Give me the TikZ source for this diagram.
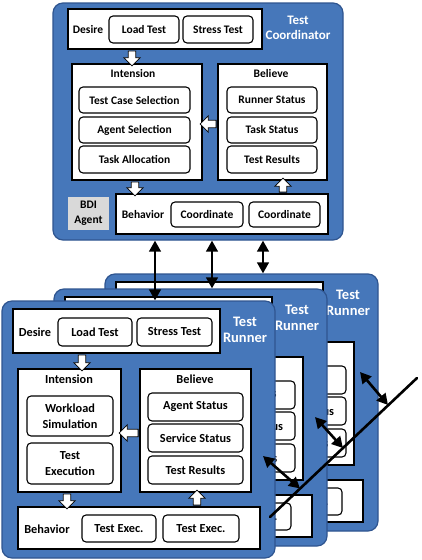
\documentclass[tikz,border=0pt]{standalone}
\usepackage{fontspec}
\setmainfont{Carlito}
\usetikzlibrary{arrows.meta,shapes.arrows,calc}

\definecolor{agblue}{HTML}{4677BA}
\definecolor{agedge}{HTML}{2F5590}
\definecolor{bdigray}{HTML}{D9D9D9}

\tikzset{
  itemfont/.style={font=\bfseries\fontsize{11.5}{15}\selectfont},
  agent/.style={draw=agedge, line width=1.2pt, fill=agblue, rounded corners=10pt},
  part/.style={draw=black, line width=1.1pt, fill=white},
  item/.style={draw=black, line width=1.1pt, fill=white, rounded corners=4pt, align=center, itemfont},
  graybox/.style={fill=bdigray, align=center, font=\bfseries\fontsize{11.5}{15}\selectfont},
  lbl/.style={itemfont, inner sep=0pt},
  agname/.style={text=white, font=\bfseries\fontsize{13}{15}\selectfont, align=center, inner sep=0pt},
  barrow/.style={single arrow, draw=black, line width=0.8pt, fill=white, inner sep=3.4pt,
    single arrow head extend=4.4pt, minimum height=#1},
  link/.style={line width=2.6pt, {Triangle[length=11pt,width=11.5pt]}-{Triangle[length=11pt,width=11.5pt]}},
  wire/.style={line width=2.6pt, line cap=round},
}

% style, name, x1, y1, x2, y2, text
\newcommand\bx[7]{%
  \node[#1, minimum width={#5-#3}, minimum height={#6-#4}, inner sep=0pt]
    (#2) at ({(#3+#5)/2},{(#4+#6)/2}) {#7};}

% full text for the front runner, visible fragments for the runners behind it
\def\rfull{1}
\newcommand\rt[2]{\ifnum\rfull=1 #1\else #2\fi}

% x shift, y shift, prefix
\newcommand\runner[3]{%
\begin{scope}[shift={(#1,#2)}, itemfont/.style={font=\bfseries\fontsize{12.3}{15.5}\selectfont},
  agname/.append style={font=\bfseries\fontsize{14.5}{16}\selectfont}]
  \bx{agent}{#3}{0}{0}{273}{257}{}
  \bx{part}{#3des}{11}{8}{218}{52}{}
  \node[lbl] (#3desl) at (33,31) {\rt{Desire}{}};
  \bx{item}{#3lt}{56}{17}{130}{45}{\rt{Load Test}{}}
  \bx{item}{#3st}{135}{17}{210}{45}{\rt{Stress Test}{}}
  \node[agname] (#3name) at (243,29) {Test\\Runner};
  \bx{part}{#3int}{16}{68}{119}{191}{}
  \node[lbl] (#3intl) at (67,78) {\rt{Intension}{}};
  \bx{item}{#3ws}{25}{95}{111}{135}{\rt{Workload\\Simulation}{}}
  \bx{item}{#3te}{25}{142}{111}{183}{\rt{Test\\Execution}{}}
  \bx{part}{#3bel}{138}{68}{249}{191}{}
  \node[lbl] (#3bell) at (193,78) {\rt{Believe}{}};
  \bx{item}{#3as}{146}{92}{241}{120}{\rt{Agent Status}{\phantom{Agent Stat}s}}
  \bx{item}{#3ss}{146}{123}{241}{151}{\rt{Service Status}{\phantom{Service Stat}us}}
  \bx{item}{#3tr}{146}{155}{241}{183}{\rt{Test Results}{\phantom{Test Result}s}}
  \bx{part}{#3beh}{16}{206}{258}{248}{}
  \node[lbl] (#3behl) at (45,228) {\rt{Behavior}{}};
  \bx{item}{#3x1}{80}{214}{154}{241}{\rt{Test Exec.}{}}
  \bx{item}{#3x2}{161}{214}{237}{241}{\rt{Test Exec.}{\phantom{Test Exec}.}}
  \node[barrow=16, rotate=-90] (#3a1) at (80,60) {};
  \node[barrow=15, rotate=-90] (#3a2) at (65,198.5) {};
  \node[barrow=15, rotate=90] (#3a3) at (195,198.5) {};
  \node[barrow=19, rotate=180] (#3a4) at (128.5,132) {};
\end{scope}}

\begin{document}
\begin{tikzpicture}[x=1pt, y=-1pt]
  \useasboundingbox (0,0) rectangle (422,560);
  \fill[white] (0,0) rectangle (422,560);

  % Test Coordinator
  \bx{agent}{tc}{53}{3}{343}{240}{}
  \bx{part}{cdes}{68}{9}{262}{49}{}
  \node[lbl] (cdesl) at (88,30) {Desire};
  \bx{item}{clt}{109}{16}{179}{43}{Load Test}
  \bx{item}{cst}{183}{16}{253}{43}{Stress Test}
  \node[agname] (tcname) at (298,27.5) {Test\\Coordinator};
  \bx{part}{cint}{72}{64}{202}{180}{}
  \node[lbl] (cintl) at (133,74) {Intension};
  \bx{item}{ctcs}{79}{87}{190}{113}{Test Case Selection}
  \bx{item}{cas}{79}{117}{190}{143}{Agent Selection}
  \bx{item}{cta}{79}{146}{190}{173}{Task Allocation}
  \bx{part}{cbel}{218}{64}{327}{180}{}
  \node[lbl] (cbell) at (271,74) {Believe};
  \bx{item}{crs}{227}{87}{317}{113}{Runner Status}
  \bx{item}{cts}{227}{117}{317}{143}{Task Status}
  \bx{item}{ctr}{227}{146}{317}{173}{Test Results}
  \bx{graybox}{bdi}{68}{197}{109}{230}{BDI\\Agent}
  \bx{part}{cbeh}{116}{194}{328}{234}{}
  \node[lbl] (cbehl) at (143,215) {Behavior};
  \bx{item}{cc1}{171}{202}{243}{227}{Coordinate}
  \bx{item}{cc2}{249}{202}{320}{227}{Coordinate}
  \node[barrow=15, rotate=-90] (ca1) at (132,56.5) {};
  \node[barrow=14, rotate=-90] (ca2) at (135,187) {};
  \node[barrow=14, rotate=90] (ca3) at (283,187) {};
  \node[barrow=16, rotate=180] (ca4) at (210,124) {};

  % Test Runners (back to front)
  \def\rfull{0}
  \runner{105}{274}{rc}
  \runner{54}{289}{rb}
  \def\rfull{1}
  \runner{2}{301}{ra}

  % links coordinator - runners
  \coordinate (k1) at (155,0);
  \coordinate (k2) at (212,0);
  \coordinate (k3) at (263,0);
  \draw[link] (tc.south -| k1) -- (ra.north -| k1);
  \draw[link] (tc.south -| k2) -- (rb.north -| k2);
  \draw[link] (tc.south -| k3) -- (rc.north -| k3);

  % diagonal line and links
  \coordinate (la) at (270,517);
  \coordinate (lb) at (417,378);
  \draw[wire] (la) -- (lb);
  \coordinate (s1) at (263,456);
  \coordinate (e1) at (300,488.5);
  \coordinate (s2) at (315,417);
  \coordinate (e2) at (343,448);
  \coordinate (s3) at (360,372);
  \coordinate (e3) at (388,405);
  \draw[link] (s1) -- (e1);
  \draw[link] (s2) -- (e2);
  \draw[link] (s3) -- (e3);
\end{tikzpicture}
\end{document}
